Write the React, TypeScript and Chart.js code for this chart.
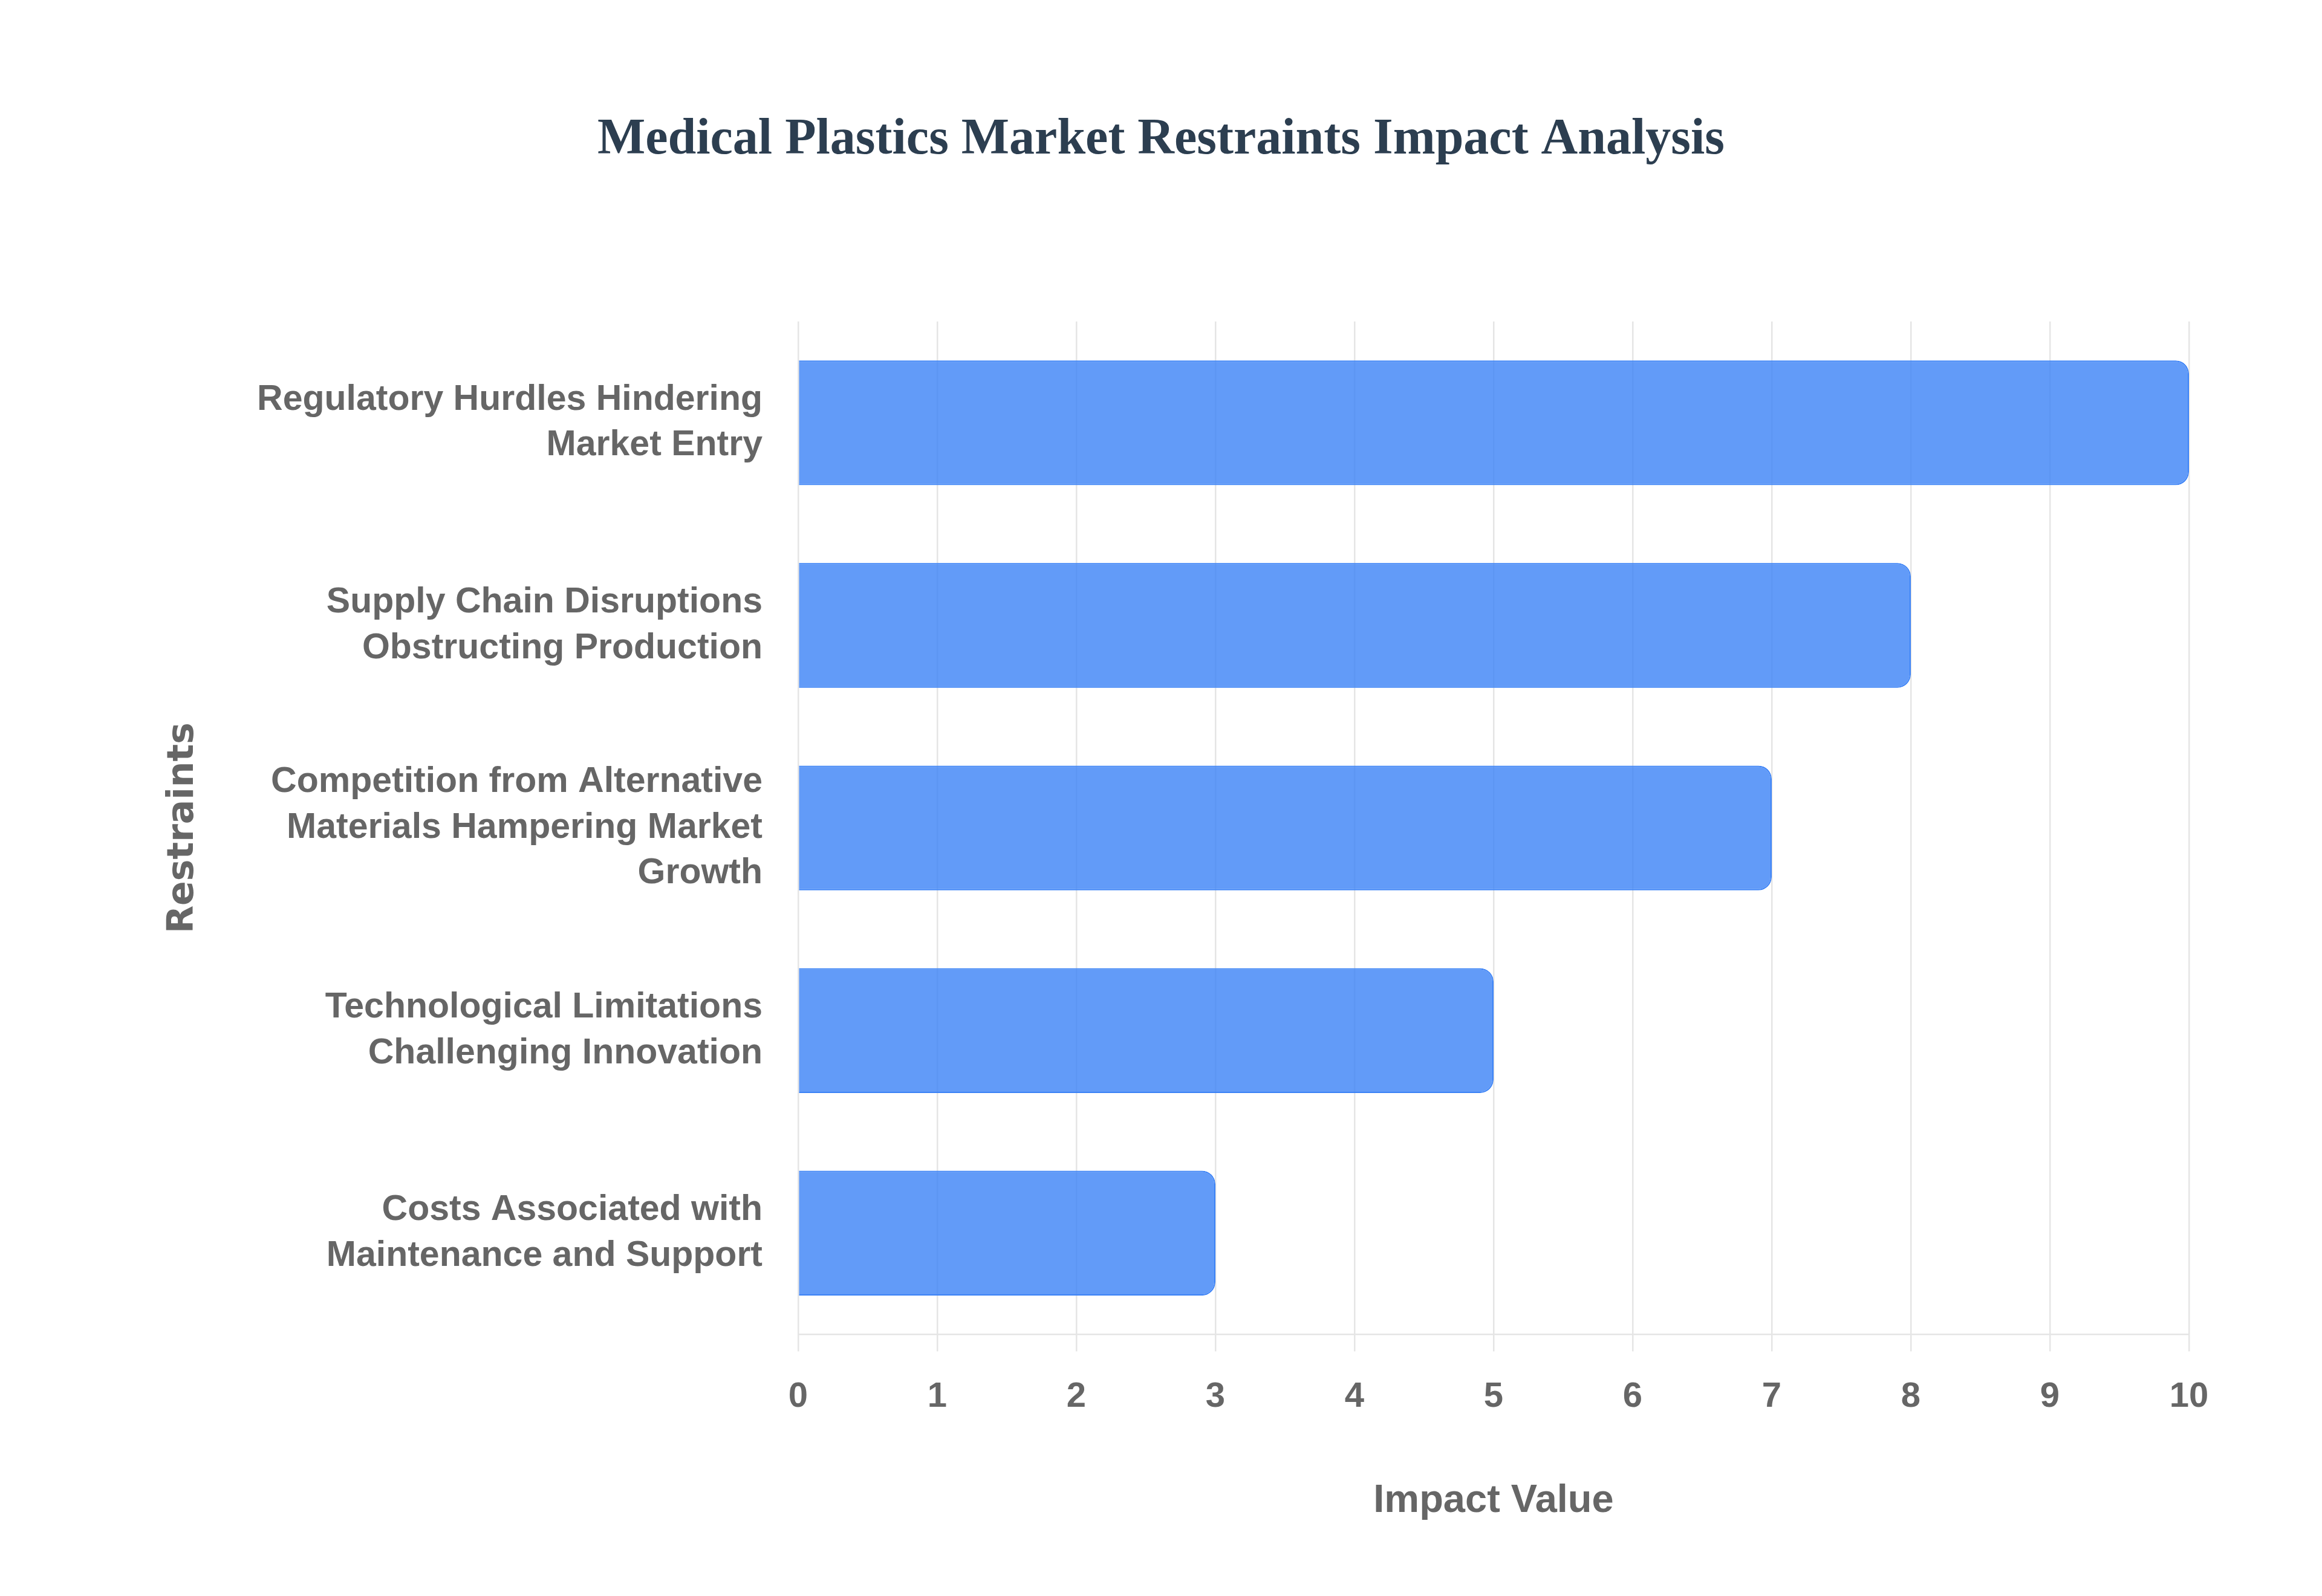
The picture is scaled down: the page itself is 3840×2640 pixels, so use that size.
import { useEffect, useRef } from "react"
import { Chart, registerables } from "chart.js"

Chart.register(...registerables)

// chart data
const restraints: string[][] = [
  ["Regulatory Hurdles Hindering", "Market Entry"],
  ["Supply Chain Disruptions", "Obstructing Production"],
  ["Competition from Alternative", "Materials Hampering Market", "Growth"],
  ["Technological Limitations", "Challenging Innovation"],
  ["Costs Associated with", "Maintenance and Support"],
]
const impactValues: number[] = [10, 8, 7, 5, 3]
const impactTicks: number[] = [0, 1, 2, 3, 4, 5, 6, 7, 8, 9, 10]

const SANS = "'Liberation Sans', Arial, Helvetica, sans-serif"
const GRID = "rgba(0, 0, 0, 0.1)"
const LABEL = "#666666"

function RestraintsChart() {
  const chartRef = useRef<HTMLCanvasElement>(null)
  const chartInstance = useRef<Chart | null>(null)

  useEffect(() => {
    if (!chartRef.current) return
    if (chartInstance.current) chartInstance.current.destroy()

    const ctx = chartRef.current.getContext("2d")
    if (!ctx) return

    chartInstance.current = new Chart(ctx, {
      type: "bar",
      data: {
        labels: restraints,
        datasets: [
          {
            label: "Impact Value",
            data: impactValues,
            backgroundColor: "rgba(59, 130, 246, 0.8)",
            borderColor: "rgb(59, 130, 246)",
            borderWidth: 2,
            borderRadius: 22,
            categoryPercentage: 0.8,
            barPercentage: 0.77,
          },
        ],
      },
      options: {
        indexAxis: "y",
        responsive: true,
        maintainAspectRatio: false,
        animation: false,
        layout: {
          padding: { left: 212, right: 212, top: 0, bottom: 110 },
        },
        scales: {
          x: {
            min: 0,
            max: 10,
            afterBuildTicks: (scale) => {
              scale.ticks = impactTicks.map((value) => ({ value }))
            },
            grid: {
              color: GRID,
              lineWidth: 2.5,
              tickLength: 28,
            },
            border: { display: true, color: GRID, width: 2.5 },
            ticks: {
              padding: 41,
              color: LABEL,
              font: { family: SANS, size: 58, weight: "bold", lineHeight: 1.2 },
            },
            title: {
              display: true,
              text: "Impact Value",
              color: LABEL,
              padding: { top: 57, bottom: 0 },
              font: { family: SANS, size: 65, weight: "bold", lineHeight: 1.2 },
            },
          },
          y: {
            afterFit: (scale) => {
              scale.width = 1100
            },
            grid: { display: false, drawTicks: false },
            border: { display: false },
            ticks: {
              padding: 59,
              color: LABEL,
              font: { family: SANS, size: 59, weight: "bold", lineHeight: 1.28 },
            },
            title: {
              display: true,
              text: "Restraints",
              color: LABEL,
              padding: { top: 47, bottom: 0 },
              font: { family: "'DejaVu Sans', sans-serif", size: 60, weight: "bold", lineHeight: 1.2 },
            },
          },
        },
        plugins: {
          legend: { display: false },
          tooltip: { enabled: false },
          title: {
            display: true,
            text: "Medical Plastics Market Restraints Impact Analysis",
            color: "#2c3e50",
            padding: { top: 174, bottom: 249 },
            font: {
              family: "'Liberation Serif', 'Times New Roman', serif",
              size: 84,
              weight: "bold",
              lineHeight: 1.2,
            },
          },
        },
      },
    })

    return () => {
      if (chartInstance.current) {
        chartInstance.current.destroy()
        chartInstance.current = null
      }
    }
  }, [])

  return <canvas ref={chartRef} />
}

export default function App() {
  return (
    <div style={{ position: "relative", width: "100%", height: "2624px" }}>
      <RestraintsChart />
    </div>
  )
}
